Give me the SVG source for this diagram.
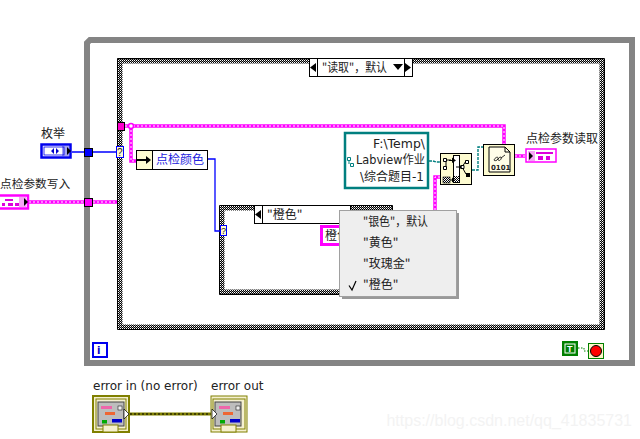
<svg xmlns="http://www.w3.org/2000/svg" width="640" height="439" viewBox="0 0 640 439">
<style>
text{font-family:"Noto Sans CJK SC","Liberation Sans",sans-serif;font-size:12px;fill:#222}
.lat{font-family:"DejaVu Sans","Noto Sans CJK SC",sans-serif;font-size:12px}
.pth{font-family:"DejaVu Sans","Noto Sans CJK SC",sans-serif;font-size:12px}
.blue{fill:#2222dd}
.box{fill:#fff;stroke:#000;stroke-width:1}
.ychip{fill:#fdfbd0;stroke:#000;stroke-width:1}
.pw{fill:none;stroke:#ff00ff;stroke-width:3.5}
.pd{fill:none;stroke:#fff;stroke-width:1;stroke-dasharray:2 2}
.bw{fill:none;stroke:#0000ff;stroke-width:1.3}
.tw{fill:none;stroke:#007f7f;stroke-width:1.4;stroke-dasharray:3 1}
.frame{fill:none;stroke:#000;stroke-width:1}
.ck{stroke:#000;stroke-width:1}
</style>
<defs>
<pattern id="ck" width="2" height="2" patternUnits="userSpaceOnUse"><rect width="2" height="2" fill="#000"/><rect width="1" height="1" fill="#fff"/><rect x="1" y="1" width="1" height="1" fill="#999"/></pattern>
<pattern id="ck2" width="2" height="2" patternUnits="userSpaceOnUse"><rect width="2" height="2" fill="#fff"/><rect width="1" height="1" fill="#000"/><rect x="1" y="1" width="1" height="1" fill="#000"/></pattern>
</defs>
<rect width="640" height="439" fill="#fff"/>
<g id="while-loop"><path d="M87 363V43L90 40H632V363Z" fill="none" stroke="#848484" stroke-width="6"/></g>
<g id="case-outer">
<path fill-rule="evenodd" d="M117.500 58.500H604.500V329.500H117.500ZM122.500 63.500V324.500H599.500V63.500Z" fill="url(#ck)" class="ck" stroke-opacity="0"/>
<path d="M117.500 58.500H604.500V329.500H117.500Z" class="frame"/>
<rect x="309.500" y="58.500" width="103" height="18" class="box"/>
<path d="M317.500 58.500V76.500M404.500 58.500V76.500" class="frame"/>
<path d="M310 67.500L316 63V72ZM411 67.500L405 63V72ZM393 64H403L398 70Z" fill="#000"/>
<text x="322" y="72" textLength="65" lengthAdjust="spacingAndGlyphs">"读取"，默认</text>
</g>
<g id="case-inner">
<path fill-rule="evenodd" d="M219.500 205.500H392.500V294.500H219.500ZM224.500 210.500V289.500H387.500V210.500Z" fill="url(#ck)"/>
<path d="M219.500 205.500H392.500V294.500H219.500Z" class="frame"/>
<rect x="254.500" y="205.500" width="96" height="18" class="box"/>
<path d="M262.500 205.500V223.500" class="frame"/>
<path d="M255 214.500L261 210V219Z" fill="#000"/>
<text x="267" y="219">"橙色"</text>
</g>
<g id="connectors">
<path d="M125 126H504V148M131 126V161H137" class="pw"/>
<path d="M125 126H504V148M131 126V161H137" class="pd"/>
<path d="M29 202H117" class="pw"/><path d="M29 202H117" class="pd"/>
<path d="M435 210V177H441" class="pw"/><path d="M435 210V177H441" class="pd"/>
<path d="M515 156H525" class="pw"/><path d="M515 156H525" class="pd"/>
<path d="M72 152H116M208 159H215V231H220" class="bw"/>
<path d="M429 161H433L436 162H440M472 170H478V147H483" class="tw"/>
<path d="M130 414H211" fill="none" stroke="#808000" stroke-width="3"/>
<path d="M130 414H211" fill="none" stroke="#000" stroke-width="1" stroke-dasharray="2 2"/>
<path d="M578 348H584V351H588" fill="none" stroke="#008000" stroke-width="1" stroke-dasharray="1.500 1.500"/>
<circle cx="131" cy="126" r="2.500" fill="#fff" stroke="#ff00ff" stroke-width="1.500"/>
</g>
<g id="enum-control">
<text x="41" y="138">枚举</text>
<rect x="41.500" y="144.500" width="29" height="13" fill="#fff" stroke="#0000ee" stroke-width="2.500"/>
<rect x="62" y="146" width="7" height="10" fill="#a5a5f0"/>
<rect x="44" y="147" width="20" height="8" fill="none" stroke="#0000ee" stroke-width=".8"/>
<path d="M51 151L54 148V154ZM59 151L56 148V154Z" fill="#0000cc"/>
<path d="M67 147V155L71 151Z" fill="#000"/>
</g>
<g id="write-control">
<text x="0" y="188" style="font-size:11.700px">点检参数写入</text>
<rect x="-3" y="195.500" width="31" height="13" fill="#fff" stroke="#ff00ff" stroke-width="2.500"/>
<rect x="19" y="197" width="7" height="10" fill="#f5a5f5"/>
<path d="M5 199H13V201H5ZM8 203H13V206H8ZM15 203H19V206H15ZM2 203H5V206H2Z" fill="#dd00dd"/>
<path d="M24 198V206L28 202Z" fill="#000"/>
</g>
<g id="tunnels">
<rect x="84.500" y="148.500" width="8" height="8" fill="#0000ff" stroke="#000"/>
<rect x="84.500" y="198.500" width="8" height="8" fill="#ff00ff" stroke="#000"/>
<rect x="117.500" y="122.500" width="7" height="8" fill="#ff00cc" stroke="#000"/>
</g>
<g id="selector-outer">
<rect x="116.500" y="146.500" width="7" height="11" fill="#fffbd0" stroke="#0000ff"/>
<text x="117" y="156" style="font-family:'Liberation Sans',sans-serif;font-size:10px">?</text>
</g>
<g id="selector-inner">
<rect x="220.500" y="225.500" width="6" height="10" fill="#fffbd0" stroke="#0000ff"/>
<text x="221" y="234" style="font-family:'Liberation Sans',sans-serif;font-size:9px">?</text>
</g>
<g id="property-node">
<rect x="136.500" y="150.500" width="71" height="19" class="box"/>
<rect x="136.500" y="150.500" width="16" height="19" class="ychip"/>
<path d="M137 159H146V156L151 160L146 164V161H137Z" fill="#000"/>
<text x="156" y="164" class="blue">点检颜色</text>
</g>
<g id="color-constant">
<rect x="321.500" y="226.500" width="30" height="18" fill="#fff" stroke="#ff00ff" stroke-width="3"/>
<text x="325" y="240">橙色</text>
</g>
<g id="path-constant">
<rect x="345" y="133" width="83" height="55" fill="#fff" stroke="#007f7f" stroke-width="2.500"/>
<path d="M347.500 157.500h3v3h-3zM350.500 163.500h3v3h-3zM349 160v4" fill="none" stroke="#007f7f"/>
<text x="373" y="148" class="pth" textLength="52" lengthAdjust="spacingAndGlyphs">F:\Temp\</text>
<text x="356" y="164" class="pth" textLength="69" lengthAdjust="spacingAndGlyphs">Labview作业</text>
<text x="360" y="181" class="pth" textLength="64" lengthAdjust="spacingAndGlyphs">\综合题目-1</text>
</g>
<g id="build-path">
<rect x="440.500" y="153.500" width="31" height="31" class="ychip"/>
<rect x="453.500" y="155.500" width="6" height="27" fill="#fff" stroke="#000"/>
<rect x="443" y="177" width="7" height="6" fill="url(#ck2)" stroke="#000" stroke-width=".6"/>
<rect x="454" y="176" width="5" height="6" fill="url(#ck2)"/>
<path d="M462 167L466 161M462 167L466 174M446 160L451 160M446 160L446 167" stroke="#000" fill="none"/>
<path d="M443.500 158.500h3v3h-3zM443.500 166.500h3v3h-3zM465.500 160.500h3v3h-3zM461 165.500h3v3h-3z" fill="#fff" stroke="#000"/>
<path d="M466 173h4v4h-4z" fill="#000"/>
<path d="M449 160H452V157.500L456 160.500L452 163V161H449ZM450 179.500H452V177.500L455 180L452 182.500V180.500H450ZM456 166.500H459V164L462 167L459 170V167.500H456Z" fill="#000"/>
</g>
<g id="read-file">
<rect x="483.500" y="144.500" width="31" height="31" class="ychip"/>
<path d="M489 147H505L510 152V172H489Z" fill="#fffde8" stroke="#000"/>
<path d="M505 147V152H510" fill="none" stroke="#000"/>
<path d="M494 160C496 156 499 157 498 159C497 161 494 161 494 160ZM498 159C500 156 502 157 501 159C500 161 498 161 498 159ZM501 158L505 155" fill="none" stroke="#000" stroke-width=".8"/>
<text x="491" y="170" style="font-family:'DejaVu Sans',sans-serif;font-size:7px;font-weight:bold">0101</text>
</g>
<g id="read-indicator">
<text x="526" y="143">点检参数读取</text>
<rect x="526" y="149" width="30" height="13" fill="#fff" stroke="#ff00ff" stroke-width="1.500"/>
<rect x="528" y="151" width="7" height="10" fill="#f5a5f5"/>
<path d="M529 152V160L533 156Z" fill="#000"/>
<path d="M536 152H553V154H536ZM538 156H543V160H538ZM546 156H550V160H546Z" fill="#dd00dd"/>
</g>
<g id="popup-menu">
<rect x="342" y="213" width="117" height="86" fill="#999"/>
<rect x="339.500" y="210.500" width="117" height="86" fill="#eeeeee" stroke="#a0a0a0" stroke-width="1"/>
<text x="363" y="226" textLength="65" lengthAdjust="spacingAndGlyphs">"银色"，默认</text>
<text x="363" y="247">"黄色"</text>
<text x="363" y="268">"玫瑰金"</text>
<text x="363" y="289">"橙色"</text>
<path d="M349 285.500L352 290L356 281" fill="none" stroke="#000" stroke-width="1.200"/>
</g>
<g id="iteration">
<rect x="93" y="343" width="14" height="14" fill="#fff" stroke="#0000ee" stroke-width="2"/>
<text x="97" y="354" style="font-family:'DejaVu Sans',sans-serif;font-size:10px;font-weight:bold;fill:#0000cc">i</text>
</g>
<g id="true-constant">
<rect x="563" y="342" width="14" height="13" fill="#008000" stroke="#008000" stroke-width="2"/>
<rect x="565" y="344" width="10" height="9" fill="none" stroke="#fff"/>
<text x="567" y="352" style="font-family:'Liberation Sans',sans-serif;font-size:9px;font-weight:bold;fill:#fff">T</text>
</g>
<g id="stop">
<rect x="588.500" y="343.500" width="15" height="15" fill="#fdf5c8" stroke="#008000"/>
<circle cx="596" cy="351" r="5.500" fill="#ff0000" stroke="#000"/>
</g>
<g id="error-in">
<text x="93" y="390" class="lat">error in (no error)</text>
<rect x="93" y="396" width="36" height="36" fill="#f5f0d0" stroke="#808000" stroke-width="2"/>
<rect x="96" y="399" width="30" height="30" fill="none" stroke="#808000"/>
<rect x="98" y="402" width="26" height="24" fill="#bdbdbd" stroke="#444"/>
<rect x="101" y="406" width="11" height="3" fill="#ee66aa"/><rect x="105" y="412" width="10" height="3" fill="#ee6633"/>
<rect x="118" y="406" width="4" height="4" fill="#eee" stroke="#000" stroke-width=".5"/>
<rect x="102" y="420" width="5" height="3.500" fill="#00aa00"/><rect x="112" y="419" width="10" height="3.500" fill="#0000cc"/>
<rect x="103" y="425" width="15" height="7" fill="#f5f0d0" stroke="#808000"/>
<path d="M124 409V419L129 414Z" fill="#fff" stroke="#000" stroke-width=".7"/>
</g>
<g id="error-out">
<text x="211" y="390" class="lat">error out</text>
<rect x="211" y="396" width="36" height="36" fill="#f5f0d0" stroke="#808000" stroke-width="1"/>
<rect x="213" y="399" width="32" height="30" fill="none" stroke="#808000"/>
<rect x="215" y="402" width="26" height="24" fill="#bdbdbd" stroke="#444"/>
<rect x="219" y="406" width="11" height="3" fill="#ee66aa"/><rect x="223" y="412" width="10" height="3" fill="#ee6633"/>
<rect x="236" y="406" width="4" height="4" fill="#eee" stroke="#000" stroke-width=".5"/>
<rect x="220" y="420" width="5" height="3.500" fill="#00aa00"/><rect x="230" y="419" width="10" height="3.500" fill="#0000cc"/>
<rect x="221" y="425" width="15" height="7" fill="#f5f0d0" stroke="#808000"/>
<path d="M212 409V419L217 414Z" fill="#fff" stroke="#000" stroke-width=".7"/>
</g>
<text x="632" y="426" text-anchor="end" style="font-family:'Liberation Sans',sans-serif;font-size:16px;fill:#f3f3f3">https://blog.csdn.net/qq_41835731</text>
</svg>
